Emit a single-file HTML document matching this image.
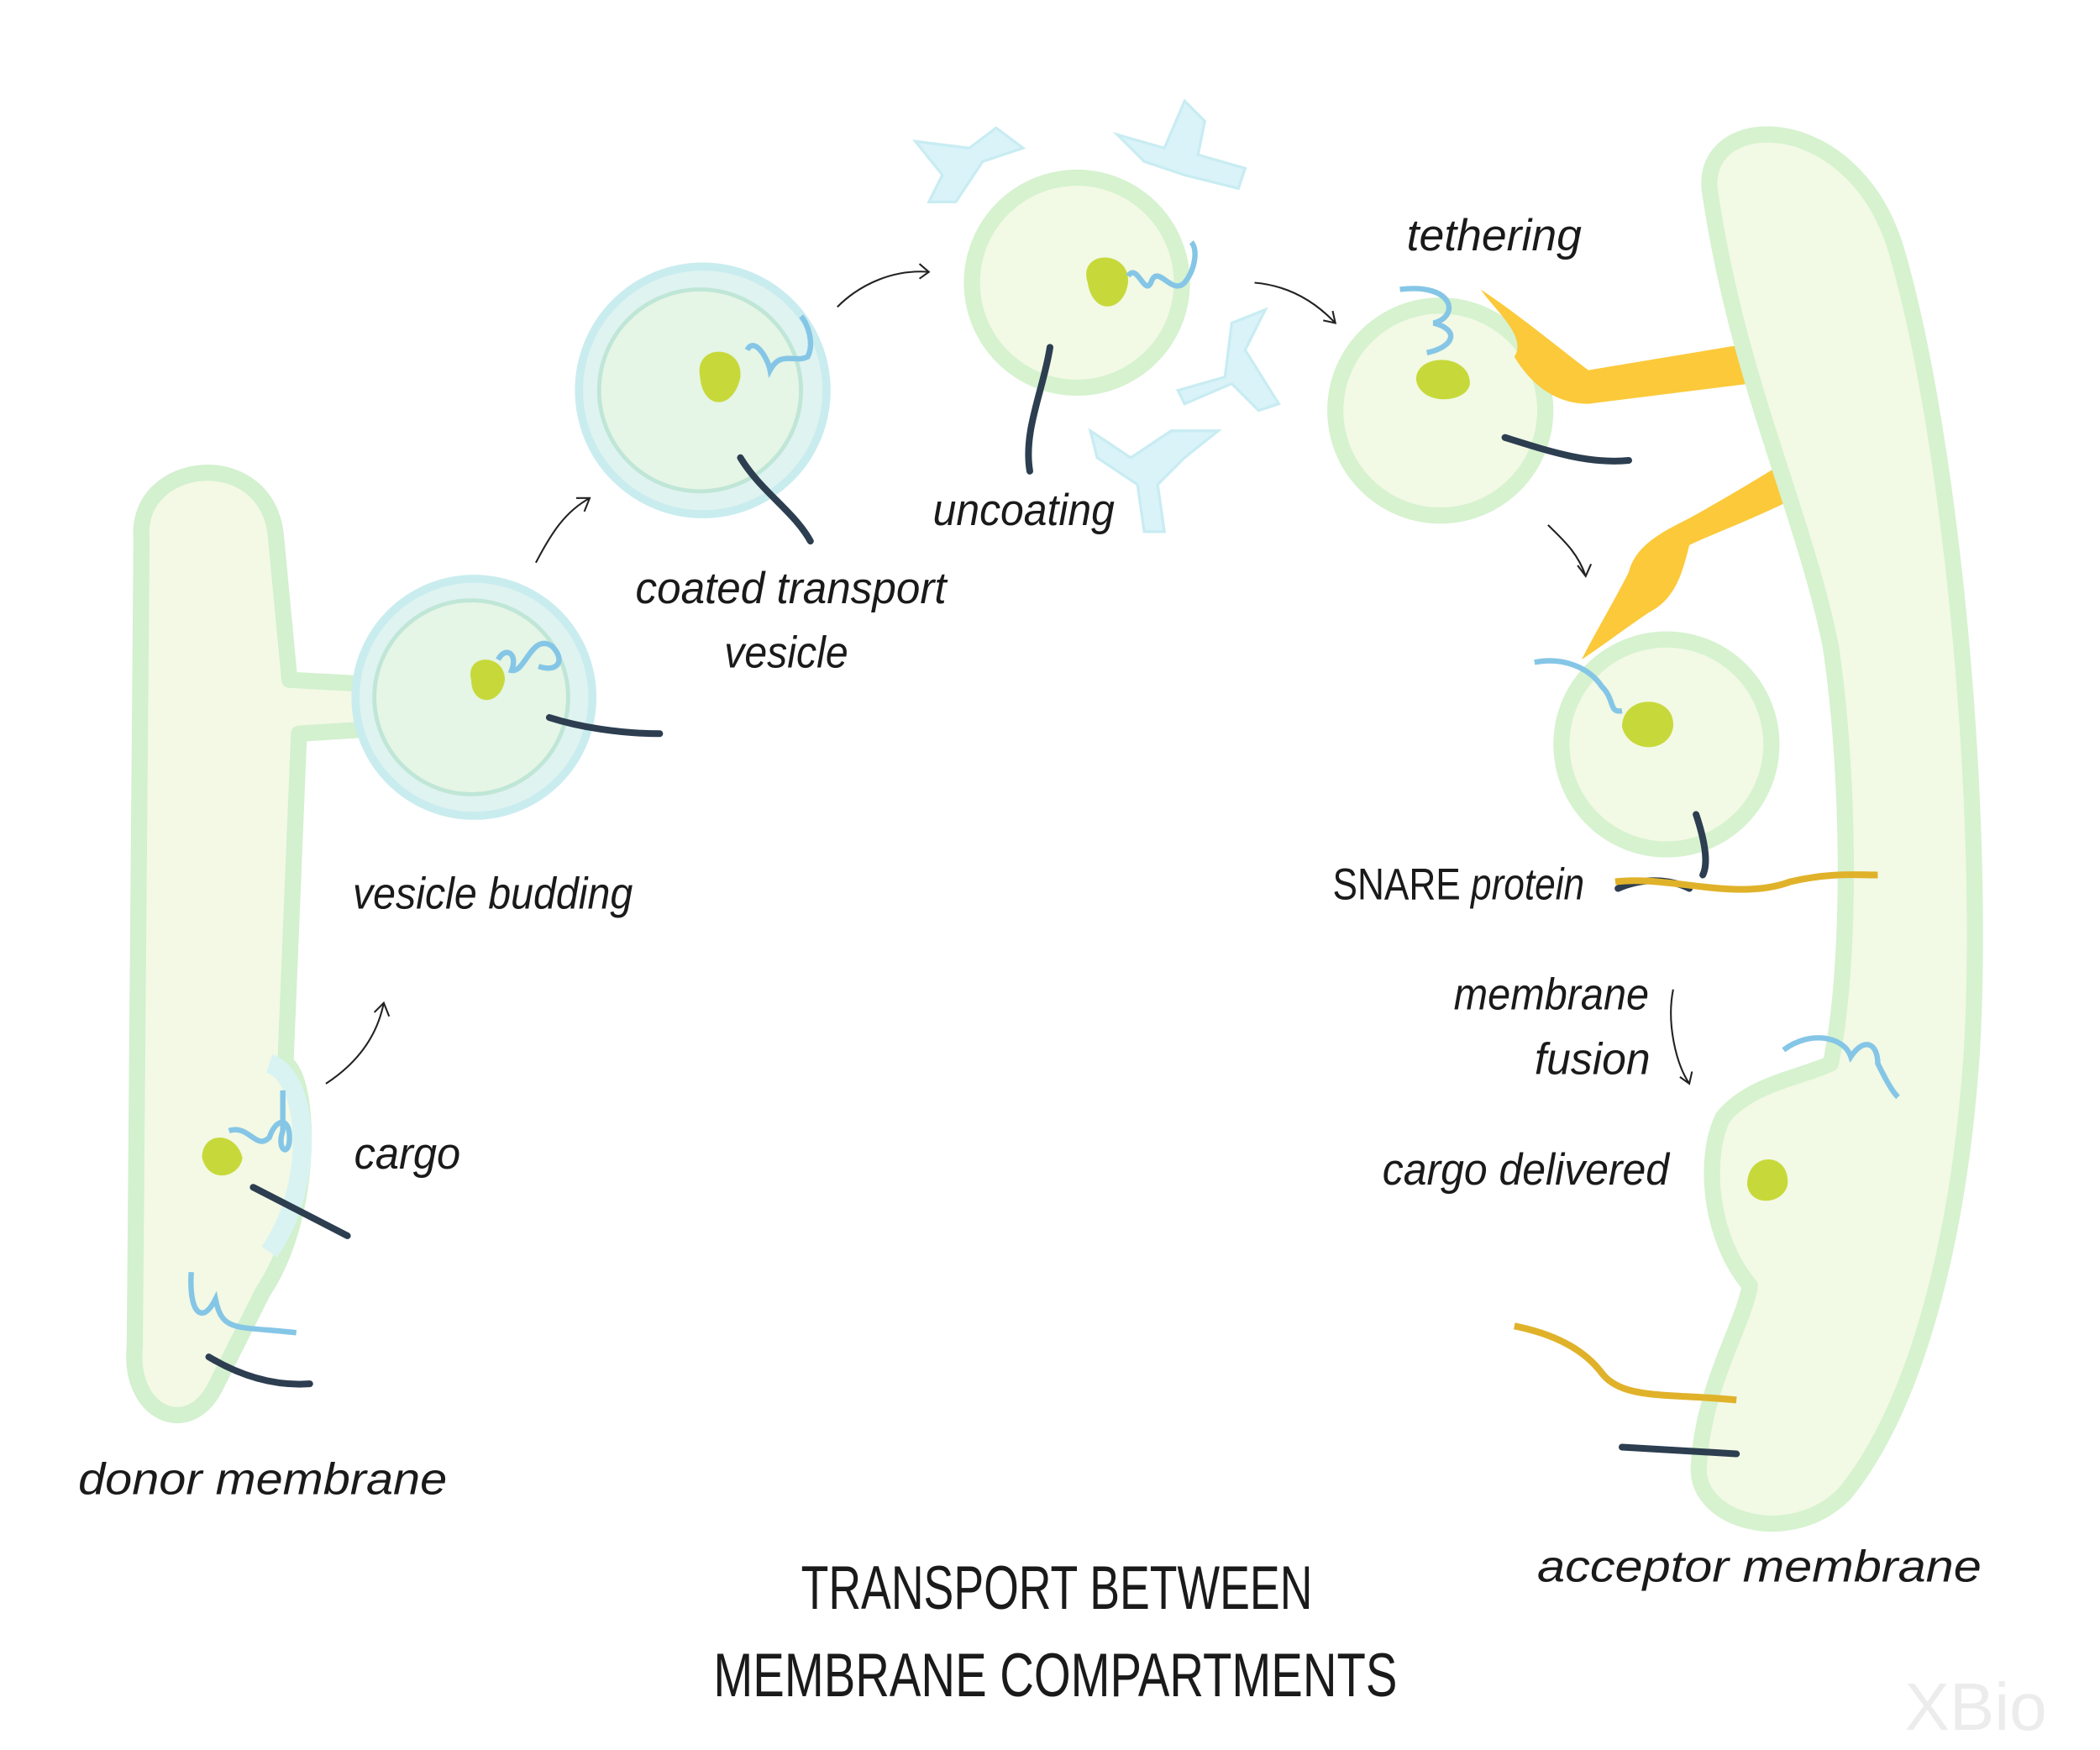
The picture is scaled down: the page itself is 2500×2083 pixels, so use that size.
<!DOCTYPE html>
<html><head><meta charset="utf-8"><style>
html,body{margin:0;padding:0;background:#fff;}
svg{display:block;}
text{font-family:"Liberation Sans",sans-serif;fill:#1a1a1a;}
.l{font-style:italic;font-size:33px;}
</style></head><body>
<svg width="2500" height="2083" viewBox="0 0 1560 1300" xmlns="http://www.w3.org/2000/svg">
<rect width="1560" height="1300" fill="#fff"/>
<!-- donor membrane -->
<path d="M105,400 C100,340 200,330 205,400 L215,505 L270,508 L270,542 L222,545 L212,790 C230,800 235,900 195,960 L160,1030 C140,1070 95,1050 100,1000 Z" fill="#f3f9e5" stroke="#d3f0cf" stroke-width="12" stroke-linejoin="round"/>
<path d="M200,790 C230,800 235,880 200,930" fill="none" stroke="#d9f3f3" stroke-width="14"/>
<path d="M150,860 C150,840 175,840 180,860 C178,875 155,880 150,860Z" fill="#c7d93a"/>
<path d="M170,840 C185,835 190,855 200,845 C205,830 215,830 215,845 C215,860 205,855 210,840 L210,810" fill="none" stroke="#85c6e6" stroke-width="4"/>
<path d="M188,882 L258,918" stroke="#2c3e50" stroke-width="5" stroke-linecap="round"/>
<path d="M142,945 C140,975 150,985 160,965 C165,990 175,985 220,990" fill="none" stroke="#85c6e6" stroke-width="4"/>
<path d="M155,1008 C175,1020 200,1030 230,1028" fill="none" stroke="#2c3e50" stroke-width="5" stroke-linecap="round"/>
<!-- budding vesicle -->
<circle cx="352" cy="518" r="88" fill="#dff3f1" stroke="#c9ecef" stroke-width="6"/>
<circle cx="350" cy="518" r="72" fill="#e5f5e6" stroke="#bfe6d6" stroke-width="3"/>
<path d="M350,505 C345,485 375,485 375,505 C372,525 350,525 350,505Z" fill="#c7d93a"/>
<path d="M370,490 C375,480 385,485 380,498 C390,500 395,470 410,480 C420,490 415,500 400,495" fill="none" stroke="#85c6e6" stroke-width="4"/>
<path d="M408,533 C430,540 460,545 490,545" fill="none" stroke="#2c3e50" stroke-width="5" stroke-linecap="round"/>
<!-- coated vesicle -->
<circle cx="522" cy="290" r="92" fill="#dff3f1" stroke="#c9ecef" stroke-width="6"/>
<circle cx="520" cy="290" r="75" fill="#e5f5e6" stroke="#bfe6d6" stroke-width="3"/>
<path d="M520,280 C515,255 552,255 550,280 C545,305 522,305 520,280Z" fill="#c7d93a"/>
<path d="M555,260 C560,250 570,265 572,275 C580,260 590,270 600,265 C605,255 600,240 595,235" fill="none" stroke="#85c6e6" stroke-width="4"/>
<path d="M550,340 C565,365 590,380 602,402" fill="none" stroke="#2c3e50" stroke-width="5" stroke-linecap="round"/>
<!-- uncoating vesicle -->
<circle cx="800" cy="210" r="78" fill="#f2f9e5" stroke="#d6f2cf" stroke-width="12"/>
<path d="M808,210 C800,185 840,185 838,210 C835,232 812,235 808,210Z" fill="#c7d93a"/>
<path d="M838,205 C845,195 850,220 855,210 C860,195 870,220 880,210 C888,200 890,185 885,180" fill="none" stroke="#85c6e6" stroke-width="4"/>
<path d="M780,258 C775,290 760,320 765,350" fill="none" stroke="#2c3e50" stroke-width="5" stroke-linecap="round"/>
<g fill="#d9f3f8" stroke="#c8ecf2" stroke-width="2">
<path d="M680,105 L720,110 L740,95 L760,110 L730,120 L710,150 L690,150 L700,130 Z"/>
<path d="M830,100 L865,110 L880,75 L895,90 L890,115 L925,125 L920,140 L880,130 L850,120 Z"/>
<path d="M875,290 L910,280 L915,240 L940,230 L925,260 L950,300 L935,305 L915,285 L880,300 Z"/>
<path d="M810,320 L840,340 L870,320 L905,320 L880,340 L860,360 L865,395 L850,395 L845,360 L815,340 Z"/>
</g>
<!-- tethering vesicle -->
<circle cx="1070" cy="305" r="78" fill="#f2f9e5" stroke="#d6f2cf" stroke-width="12"/>
<path d="M1052,282 C1052,262 1092,262 1092,285 C1090,300 1055,302 1052,282Z" fill="#c7d93a"/>
<path d="M1040,215 C1080,210 1085,235 1065,240 C1085,245 1080,258 1060,262" fill="none" stroke="#85c6e6" stroke-width="4"/>
<path d="M1118,325 C1150,335 1180,345 1210,342" fill="none" stroke="#2c3e50" stroke-width="5" stroke-linecap="round"/>
<path d="M1100,215 C1130,235 1160,260 1180,275 L1300,255 L1325,270 L1300,285 L1180,300 C1160,300 1140,290 1125,265 C1135,250 1110,230 1100,215Z" fill="#fbc93a"/>
<!-- lower vesicle -->
<circle cx="1238" cy="553" r="78" fill="#f2f9e5" stroke="#d6f2cf" stroke-width="12"/>
<path d="M1205,540 C1205,515 1245,515 1243,540 C1240,560 1210,560 1205,540Z" fill="#c7d93a"/>
<path d="M1140,492 C1160,488 1180,495 1190,510 C1200,520 1195,530 1205,528" fill="none" stroke="#85c6e6" stroke-width="4"/>
<path d="M1260,605 C1265,620 1270,640 1265,650 M1202,660 C1225,650 1245,655 1255,660" fill="none" stroke="#2c3e50" stroke-width="5" stroke-linecap="round"/>
<path d="M1360,320 L1395,335 L1370,350 C1320,380 1275,395 1255,405 C1250,425 1245,445 1225,455 C1210,465 1190,480 1175,490 C1185,470 1200,445 1210,425 C1215,405 1235,395 1255,385 C1300,360 1340,335 1360,320Z" fill="#fbc93a"/>
<!-- acceptor membrane -->
<path d="M1270,140 C1265,80 1380,80 1410,190 C1450,330 1475,600 1465,780 C1455,930 1420,1050 1370,1110 C1330,1150 1260,1130 1262,1090 C1265,1030 1295,985 1300,955 C1270,920 1265,860 1280,830 C1300,805 1340,800 1360,790 C1375,720 1375,580 1360,480 C1340,380 1290,280 1270,140Z" fill="#f2f9e5" stroke="#d6f2cf" stroke-width="12" stroke-linejoin="round"/>
<path d="M1298,880 C1298,855 1330,855 1328,880 C1325,895 1300,897 1298,880Z" fill="#c7d93a"/>
<path d="M1325,780 C1345,765 1370,770 1375,785 C1385,770 1395,775 1395,790 C1400,800 1405,810 1410,815" fill="none" stroke="#85c6e6" stroke-width="4"/>
<path d="M1200,655 C1240,650 1290,670 1330,655 C1360,648 1380,650 1395,650" fill="none" stroke="#e0b22a" stroke-width="5"/>
<path d="M1125,985 C1150,990 1175,1000 1190,1020 C1205,1040 1240,1035 1290,1040" fill="none" stroke="#e0b22a" stroke-width="5"/>
<path d="M1205,1075 L1290,1080" stroke="#2c3e50" stroke-width="5" stroke-linecap="round"/>
<!-- arrows -->
<g fill="none" stroke="#222" stroke-width="1.3">
<path d="M242,805 C265,790 280,770 285,745 M278,752 L285,745 L289,755"/>
<path d="M398,418 C410,395 420,380 438,370 M428,370 L438,370 L434,380"/>
<path d="M622,228 C640,210 665,200 690,202 M683,196 L690,202 L683,207"/>
<path d="M932,210 C955,212 975,222 992,240 M983,238 L992,240 L990,231"/>
<path d="M1150,390 C1160,400 1172,410 1178,428 M1172,420 L1178,428 L1182,419"/>
<path d="M1243,735 C1238,760 1245,790 1255,805 M1248,800 L1255,805 L1257,796"/>
</g>
<!-- labels -->
<g lengthAdjust="spacingAndGlyphs">
<text class="l" x="58" y="1110" textLength="274" lengthAdjust="spacingAndGlyphs">donor membrane</text>
<text class="l" x="263" y="868" textLength="79" lengthAdjust="spacingAndGlyphs">cargo</text>
<text class="l" x="262" y="675" textLength="208" lengthAdjust="spacingAndGlyphs">vesicle budding</text>
<text class="l" x="472" y="448" textLength="231" lengthAdjust="spacingAndGlyphs">coated transport</text>
<text class="l" x="538" y="496" textLength="92" lengthAdjust="spacingAndGlyphs">vesicle</text>
<text class="l" x="693" y="390" textLength="135" lengthAdjust="spacingAndGlyphs">uncoating</text>
<text class="l" x="1045" y="186" textLength="130" lengthAdjust="spacingAndGlyphs">tethering</text>
<text class="l" x="990" y="668" textLength="187" lengthAdjust="spacingAndGlyphs" style="font-style:normal">SNARE <tspan style="font-style:italic">protein</tspan></text>
<text class="l" x="1080" y="750" textLength="145" lengthAdjust="spacingAndGlyphs">membrane</text>
<text class="l" x="1140" y="798" textLength="86" lengthAdjust="spacingAndGlyphs">fusion</text>
<text class="l" x="1027" y="880" textLength="213" lengthAdjust="spacingAndGlyphs">cargo delivered</text>
<text class="l" x="1142" y="1175" textLength="330" lengthAdjust="spacingAndGlyphs">acceptor membrane</text>
<text x="595" y="1195" textLength="380" lengthAdjust="spacingAndGlyphs" style="font-size:46px">TRANSPORT BETWEEN</text>
<text x="530" y="1260" textLength="508" lengthAdjust="spacingAndGlyphs" style="font-size:46px">MEMBRANE COMPARTMENTS</text>
</g>
<text x="1415" y="1285" style="font-size:50px;fill:#ececec">XBio</text>
</svg>
</body></html>
